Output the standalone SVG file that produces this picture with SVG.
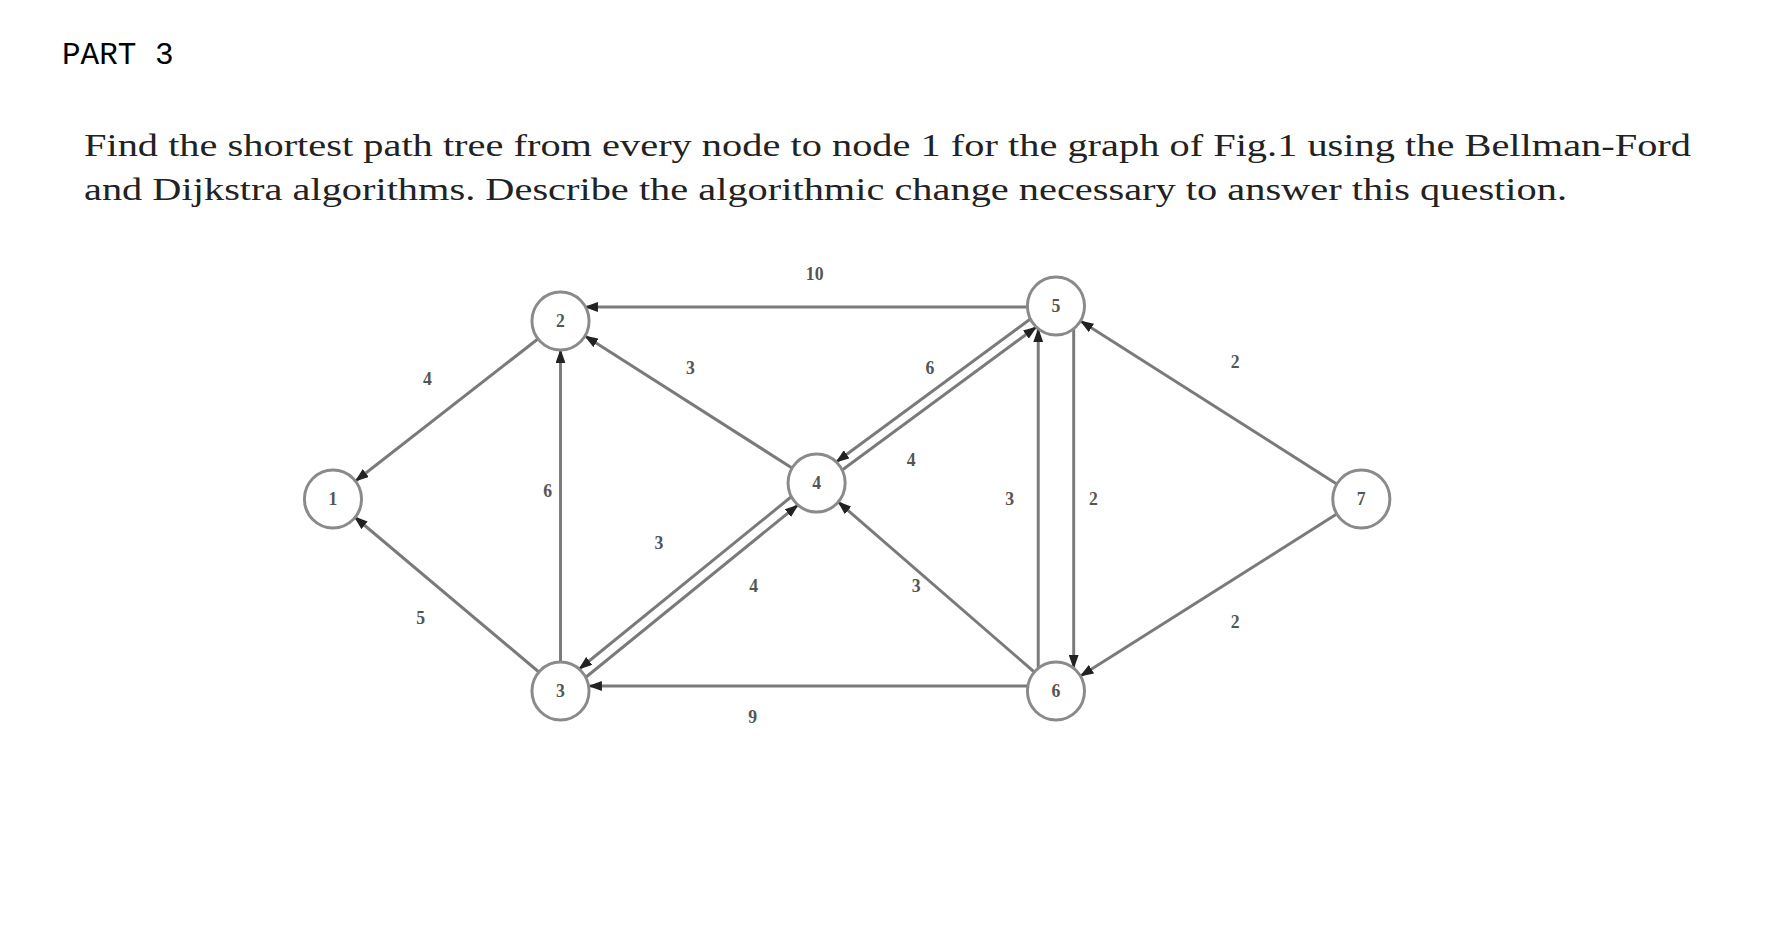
<svg xmlns="http://www.w3.org/2000/svg" width="1792" height="926" viewBox="0 0 1792 926">
<style>
.e{stroke:#7a7a7a;stroke-width:3;fill:none;marker-end:url(#ah)}
.n circle{fill:#fff;stroke:#8a8a8a;stroke-width:3}
.n text,.w{font-family:"Liberation Serif",serif;font-size:18px;font-weight:bold;fill:#555;text-anchor:middle}
.p{font-family:"Liberation Serif",serif;font-size:31px;fill:#222}
.h{font-family:"Courier New","Liberation Mono","DejaVu Sans Mono",monospace;font-size:31px;fill:#000}
</style>
<defs>
<marker id="ah" markerUnits="userSpaceOnUse" markerWidth="14" markerHeight="10" refX="13" refY="5" orient="auto">
<path d="M0,0 L14,5 L0,10 z" fill="#222"/>
</marker>
</defs>
<rect width="1792" height="926" fill="#fff"/>
<text class="h" x="62" y="64">PART 3</text>
<text class="p" x="84" y="156" textLength="1607" lengthAdjust="spacingAndGlyphs">Find the shortest path tree from every node to node 1 for the graph of Fig.1 using the Bellman-Ford</text>
<text class="p" x="84" y="200" textLength="1483" lengthAdjust="spacingAndGlyphs">and Dijkstra algorithms. Describe the algorithmic change necessary to answer this question.</text>
<g transform="matrix(0.985,0,0,1,3,0)">
<g id="edges">
<line class="e" x1="1040" y1="307" x2="591" y2="307"/>
<line class="e" x1="543" y1="339" x2="358" y2="481"/>
<line class="e" x1="544" y1="672" x2="357" y2="517"/>
<line class="e" x1="566" y1="662" x2="566" y2="350"/>
<line class="e" x1="801" y1="468" x2="591" y2="336"/>
<line class="e" x1="1043" y1="319" x2="846" y2="462"/>
<line class="e" x1="852" y1="470" x2="1049" y2="327"/>
<line class="e" x1="800" y1="497" x2="585" y2="669"/>
<line class="e" x1="592" y1="677" x2="807" y2="505"/>
<line class="e" x1="1047" y1="672" x2="848" y2="502"/>
<line class="e" x1="1051" y1="668" x2="1051" y2="329"/>
<line class="e" x1="1087" y1="329" x2="1087" y2="668"/>
<line class="e" x1="1354" y1="484" x2="1094" y2="321"/>
<line class="e" x1="1354" y1="514" x2="1094" y2="676"/>
<line class="e" x1="1040" y1="686" x2="595" y2="686"/>
<text class="w" x="824" y="280">10</text>
<text class="w" x="431" y="385">4</text>
<text class="w" x="424" y="624">5</text>
<text class="w" x="553" y="497">6</text>
<text class="w" x="698" y="374">3</text>
<text class="w" x="941" y="374">6</text>
<text class="w" x="922" y="466">4</text>
<text class="w" x="666" y="549">3</text>
<text class="w" x="762" y="592">4</text>
<text class="w" x="927" y="592">3</text>
<text class="w" x="1022" y="505">3</text>
<text class="w" x="1107" y="505">2</text>
<text class="w" x="1251" y="368">2</text>
<text class="w" x="1251" y="628">2</text>
<text class="w" x="761" y="723">9</text>
</g>
<g id="node1" class="n"><circle cx="335" cy="499" r="29"/><text x="335" y="505">1</text></g>
<g id="node2" class="n"><circle cx="566" cy="321" r="29"/><text x="566" y="327">2</text></g>
<g id="node3" class="n"><circle cx="566" cy="691" r="29"/><text x="566" y="697">3</text></g>
<g id="node4" class="n"><circle cx="826" cy="483" r="29"/><text x="826" y="489">4</text></g>
<g id="node5" class="n"><circle cx="1069" cy="306" r="29"/><text x="1069" y="312">5</text></g>
<g id="node6" class="n"><circle cx="1069" cy="691" r="29"/><text x="1069" y="697">6</text></g>
<g id="node7" class="n"><circle cx="1379" cy="499" r="29"/><text x="1379" y="505">7</text></g>
</g>
</svg>
